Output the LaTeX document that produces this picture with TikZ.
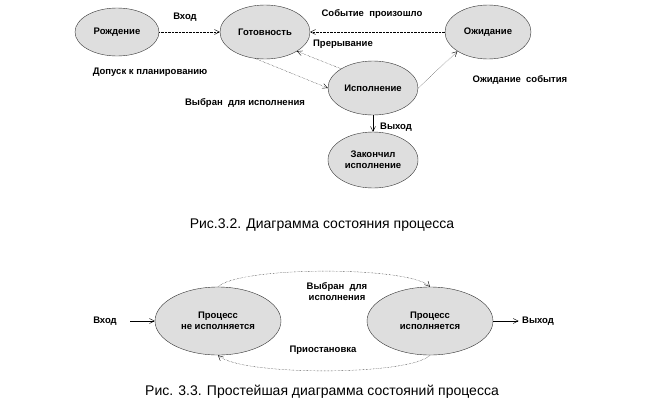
\documentclass[tikz,border=0pt]{standalone}
\usepackage{fontspec}
\setmainfont{Liberation Sans}
\usetikzlibrary{positioning,shapes.geometric,arrows.meta}
\tikzset{
  state/.style={ellipse,draw=black!80,fill=black!13,font=\bfseries\fontsize{9.5}{11}\selectfont,align=center,inner sep=0pt},
  lbl/.style={font=\bfseries\fontsize{9.5}{11}\selectfont,align=center},
  caption/.style={font=\fontsize{14}{16}\selectfont},
  tip/.style={-{Straight Barb[length=5pt,width=5pt]}},
  trans/.style={tip,densely dotted,thin},
}
\begin{document}
\begin{tikzpicture}[x=1pt,y=-1pt]
  \useasboundingbox (0,0) rectangle (647,410);
  % upper diagram
  \node[state,minimum width=84,minimum height=48] (birth) at (117,32) {Рождение};
  \node[state,minimum width=90,minimum height=54] (ready) at (265,32) {Готовность};
  \node[state,minimum width=86,minimum height=54] (wait) at (488,32) {Ожидание};
  \node[state,minimum width=90,minimum height=54] (run) at (373,88) {Исполнение};
  \node[state,minimum width=90,minimum height=56] (done) at (373,160) {Закончил\\исполнение};

  \draw[trans] (birth) -- (ready);
  \draw[trans] (wait) -- (ready);
  \draw[trans] (run.north west) -- (ready.south east);
  \draw[trans] (ready.-110) -- (run.west);
  \draw[trans] (run.east) -- (wait.south west);
  \draw[tip,thin] (run) -- (done);

  \node[lbl] (l-in) at (185,17) {Вход};
  \node[lbl] (l-ev) at (372,14) {Событие\ \ произошло};
  \node[lbl] (l-int) at (343,44) {Прерывание};
  \node[lbl] (l-adm) at (150,72) {Допуск к планированию};
  \node[lbl] (l-sel) at (245,103) {Выбран\ \ для исполнения};
  \node[lbl] (l-wev) at (520,80) {Ожидание\ \ события};
  \node[lbl] (l-out) at (396,127) {Выход};

  \node[caption] (cap1) at (322,225) {Рис.3.2. Диаграмма состояния процесса};

  % lower diagram
  \node[state,minimum width=126,minimum height=68] (idle) at (218,321) {Процесс\\не исполняется};
  \node[state,minimum width=126,minimum height=68] (exec) at (430,321) {Процесс\\исполняется};
  \node[lbl] (in2) at (105,321) {Вход};
  \node[lbl] (out2) at (538,321) {Выход};
  \node[lbl] (sel2) at (337,292) {Выбран\ \ для\\исполнения};
  \node[lbl] (susp) at (323,350) {Приостановка};

  \draw[tip,thin] ([xshift=10pt]in2.east) -- (idle.west);
  \draw[tip,thin] (exec.east) -- (out2.west);
  \draw[trans] (idle.north) .. controls (240,266) and (410,266) .. (exec.north);
  \draw[trans] (exec.south) .. controls (410,376) and (240,376) .. (idle.south);

  \node[caption] (cap2) at (322,392) {Рис. 3.3. Простейшая диаграмма состояний процесса};
\end{tikzpicture}
\end{document}
